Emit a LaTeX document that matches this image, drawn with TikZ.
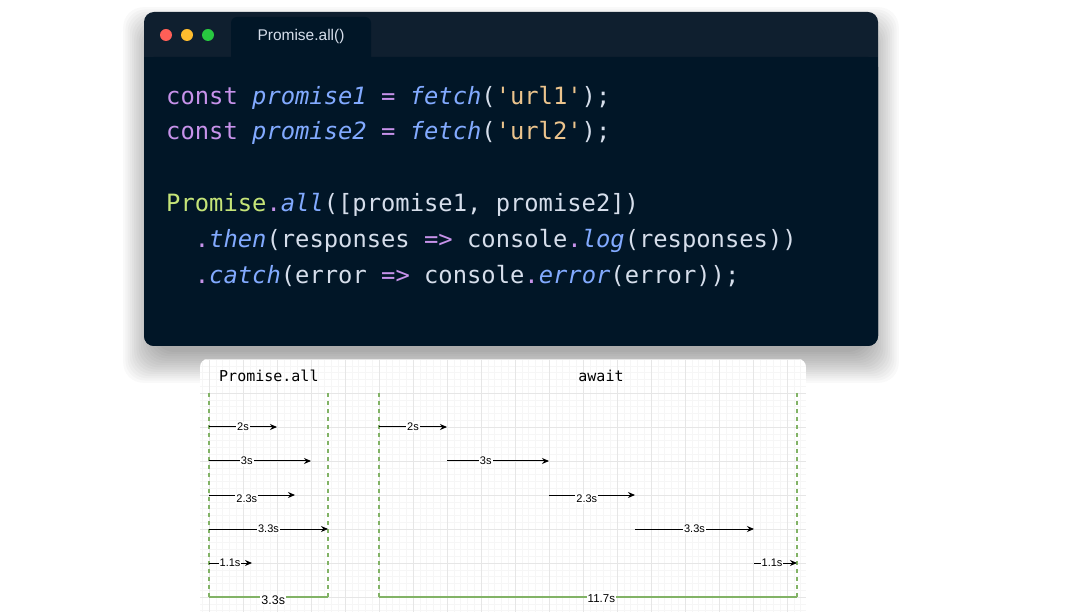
\documentclass[tikz,border=0pt]{standalone}
\usepackage{fontspec}
\setmainfont{Liberation Sans}
\setmonofont{DejaVu Sans Mono}
\usetikzlibrary{arrows.meta}
\definecolor{winbody}{HTML}{011627}
\definecolor{winbar}{HTML}{0F1F2F}
\definecolor{tabtext}{HTML}{D6DEEB}
\definecolor{dotred}{HTML}{FF5F57}
\definecolor{dotyel}{HTML}{FEBC2E}
\definecolor{dotgrn}{HTML}{28C840}
\definecolor{ckw}{HTML}{C792EA}
\definecolor{cfn}{HTML}{82AAFF}
\definecolor{cstr}{HTML}{ECC48D}
\definecolor{ccls}{HTML}{C5E478}
\definecolor{cpl}{HTML}{D6DEEB}
\definecolor{gmin}{HTML}{F6F6F6}
\definecolor{gmaj}{HTML}{E6E6E6}
\definecolor{dgreen}{HTML}{82B366}
\newcommand\cdKw[1]{\textcolor{ckw}{#1}}
\newcommand\cdFn[1]{\textcolor{cfn}{\itshape #1}}
\newcommand\cdStr[1]{\textcolor{cstr}{#1}}
\newcommand\cdCls[1]{\textcolor{ccls}{#1}}
\newcommand\cdPl[1]{\textcolor{cpl}{#1}}
\begin{document}
\begin{tikzpicture}[x=1pt,y=-1pt,
  codeline/.style={anchor=base west,inner sep=0pt,text=cpl,font=\ttfamily\fontsize{23.8}{28}\selectfont},
  tabtitle/.style={inner sep=0pt,text=tabtext,font=\fontsize{15.5}{18}\selectfont},
  paneltitle/.style={inner sep=0pt,anchor=base,font=\ttfamily\fontsize{15}{18}\selectfont},
  arr/.style={draw=black,line width=1pt,-{Stealth[length=7pt,width=6pt]}},
  lbl/.style={fill=white,inner sep=1pt,font=\fontsize{11}{13}\selectfont},
  lblbelow/.style={lbl,yshift=-4pt},
  gdash/.style={draw=dgreen,line width=1.3pt,dash pattern=on 4pt off 4pt},
  gsolid/.style={draw=dgreen,line width=2pt},
  gminor/.style={draw=gmin,line width=0.5pt},
  gmajor/.style={draw=gmaj,line width=0.8pt}]
\clip (0,0) rectangle (1088,612);
\fill[white] (0,0) rectangle (1088,612);
% soft shadow of the code window
\foreach \i in {0,...,14}
  \fill[black,opacity=0.025,rounded corners=20]
    ({144+10-2.2*\i},{28+10-2.2*\i}) rectangle ({878-10+2.2*\i},{362-10+2.2*\i});
% code window
\fill[winbar,rounded corners=10] (144,12) rectangle (878,346);
\fill[winbody,rounded corners=10] (144,57) rectangle (878,346);
\fill[winbody] (144,57) rectangle (878,80);
\fill[winbody,rounded corners=6] (231,17) rectangle (371,70);
\fill[dotred] (166,35) circle (6);
\fill[dotyel] (187,35) circle (6);
\fill[dotgrn] (208,35) circle (6);
\node[tabtitle] (tab) at (301,36) {Promise.all()};
% code
\node[codeline] (l1) at (166,105) {\cdKw{const} \cdFn{promise1} \cdKw{=} \cdFn{fetch}\cdPl{(}\cdStr{'url1'}\cdPl{);}};
\node[codeline] (l2) at (166,140) {\cdKw{const} \cdFn{promise2} \cdKw{=} \cdFn{fetch}\cdPl{(}\cdStr{'url2'}\cdPl{);}};
\node[codeline] (l4) at (166,212) {\cdCls{Promise}\cdKw{.}\cdFn{all}\cdPl{([promise1,} \cdPl{promise2])}};
\node[codeline] (l5) at (194.7,248) {\cdKw{.}\cdFn{then}\cdPl{(responses} \cdKw{=>} \cdPl{console}\cdKw{.}\cdFn{log}\cdPl{(responses))}};
\node[codeline] (l6) at (194.7,284) {\cdKw{.}\cdFn{catch}\cdPl{(error} \cdKw{=>} \cdPl{console}\cdKw{.}\cdFn{error}\cdPl{(error));}};
% diagram panel
\begin{scope}
\clip[rounded corners=8] (200,359) rectangle (806,640);
\fill[white] (200,359) rectangle (806,640);
\foreach \k in {-1,...,87}
  \draw[gminor] ({209+6.8*\k},359) -- ({209+6.8*\k},640);
\foreach \k in {-5,...,33}
  \draw[gminor] (200,{393+6.8*\k}) -- (806,{393+6.8*\k});
\foreach \m in {0,...,17}
  \draw[gmajor] ({209+34*\m},359) -- ({209+34*\m},640);
\foreach \m in {-1,...,6}
  \draw[gmajor] (200,{393+34*\m}) -- (806,{393+34*\m});
\end{scope}
\node[paneltitle,anchor=base west] (tall) at (219,382) {Promise.all};
\node[paneltitle] (tawait) at (601,382) {await};
% green markers
\coordinate (da1) at (209,393); \coordinate (da2) at (209,597);
\coordinate (db1) at (328,393); \coordinate (db2) at (328,597);
\coordinate (dc1) at (379,393); \coordinate (dc2) at (379,597);
\coordinate (dd1) at (797,393); \coordinate (dd2) at (797,597);
\draw[gdash] (da1) -- (da2);
\draw[gdash] (db1) -- (db2);
\draw[gdash] (dc1) -- (dc2);
\draw[gdash] (dd1) -- (dd2);
\draw[gsolid] (da2) -- node[lbl,pos=0.54,yshift=-3pt,font=\fontsize{12.5}{14}\selectfont] (tot1) {3.3s} (db2);
\draw[gsolid] (dc2) -- node[lbl,pos=0.532,yshift=-2pt,font=\fontsize{11.5}{14}\selectfont] (tot2) {11.7s} (dd2);
% Promise.all arrows
\coordinate (a1s) at (209,427); \coordinate (a1e) at (277,427);
\coordinate (a2s) at (209,461); \coordinate (a2e) at (311,461);
\coordinate (a3s) at (209,495); \coordinate (a3e) at (295,495);
\coordinate (a4s) at (209,529); \coordinate (a4e) at (328,529);
\coordinate (a5s) at (209,563); \coordinate (a5e) at (252,563);
\draw[arr] (a1s) -- node[lbl,pos=0.5] (la1) {2s} (a1e);
\draw[arr] (a2s) -- node[lbl,pos=0.37] (la2) {3s} (a2e);
\draw[arr] (a3s) -- node[lblbelow,pos=0.44] (la3) {2.3s} (a3e);
\draw[arr] (a4s) -- node[lbl,pos=0.5] (la4) {3.3s} (a4e);
\draw[arr] (a5s) -- node[lbl,pos=0.49] (la5) {1.1s} (a5e);
% await arrows
\coordinate (b1s) at (379,427); \coordinate (b1e) at (447,427);
\coordinate (b2s) at (447,461); \coordinate (b2e) at (549,461);
\coordinate (b3s) at (549,495); \coordinate (b3e) at (635,495);
\coordinate (b4s) at (635,529); \coordinate (b4e) at (754,529);
\coordinate (b5s) at (754,563); \coordinate (b5e) at (797,563);
\draw[arr] (b1s) -- node[lbl,pos=0.5] (lb1) {2s} (b1e);
\draw[arr] (b2s) -- node[lbl,pos=0.38] (lb2) {3s} (b2e);
\draw[arr] (b3s) -- node[lblbelow,pos=0.44] (lb3) {2.3s} (b3e);
\draw[arr] (b4s) -- node[lbl,pos=0.5] (lb4) {3.3s} (b4e);
\draw[arr] (b5s) -- node[lbl,pos=0.42] (lb5) {1.1s} (b5e);
\end{tikzpicture}
\end{document}
